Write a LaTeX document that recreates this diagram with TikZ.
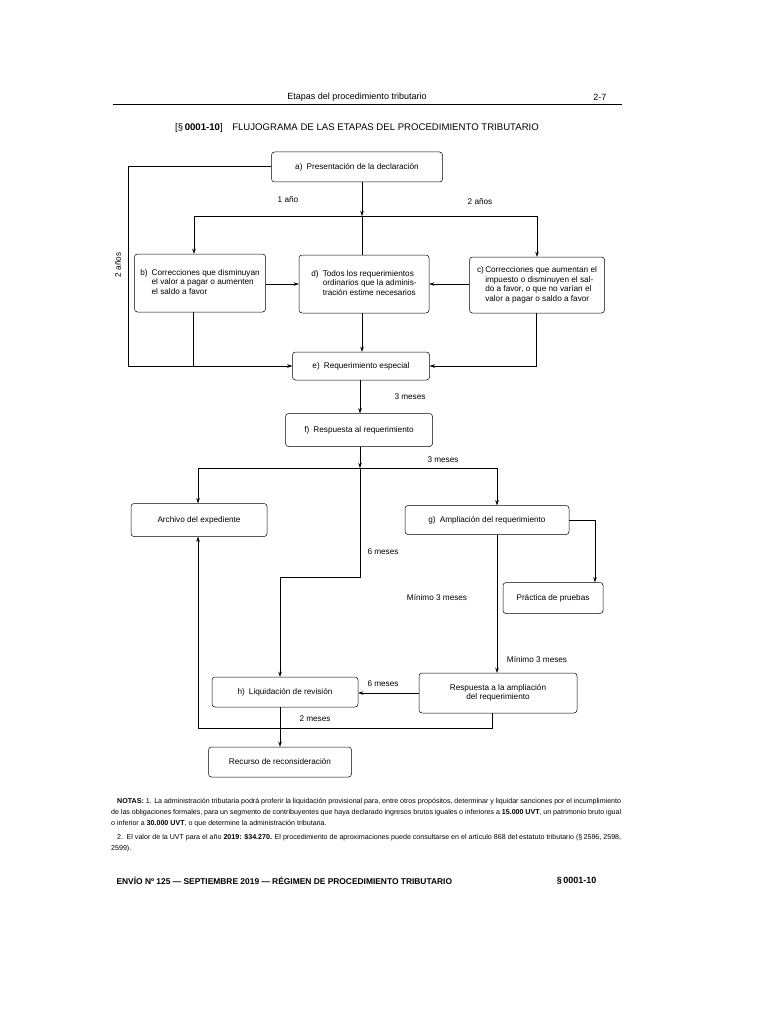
\documentclass[tikz,border=0pt]{standalone}
\usepackage{fontspec}
\setmainfont{Liberation Sans}
\usetikzlibrary{arrows.meta}
\begin{document}
\begin{tikzpicture}[x=1pt,y=-1pt,
  box/.style={draw,rounded corners=3pt,line width=0.5pt,font=\fontsize{8.2}{9.6}\selectfont,inner sep=2pt},
  lbl/.style={font=\fontsize{8.2}{9.6}\selectfont,inner sep=1pt},
  arr/.style={-{Stealth[length=5pt,width=3.5pt]},line width=0.45pt},
  ln/.style={line width=0.45pt}]
\useasboundingbox[fill=white] (0,0) rectangle (768,1024);
% header
\node[font=\fontsize{9}{10}\selectfont] (hd) at (357,97) {Etapas del procedimiento tributario};
\node[font=\fontsize{9}{10}\selectfont,anchor=east] (pg) at (610,97) {2-7};
\draw[line width=0.7pt] (113,104) -- (622,104);
\node[font=\fontsize{9.6}{11}\selectfont] (ttl) at (357,128) {[\S\,\textbf{0001-10}]\quad FLUJOGRAMA DE LAS ETAPAS DEL PROCEDIMIENTO TRIBUTARIO};
% boxes
\node[box,minimum width=171,minimum height=30] (a) at (357,167) {a)\enspace Presentación de la declaración};
\node[box,minimum width=131,minimum height=58,align=left] (b) at (200,283) {b)\enspace\begin{tabular}[t]{@{}l@{}}Correcciones que disminuyan\\el valor a pagar o aumenten\\el saldo a favor\end{tabular}};
\node[box,minimum width=130,minimum height=58,align=left] (d) at (364,284) {d)\enspace\begin{tabular}[t]{@{}l@{}}Todos los requerimientos\\ordinarios que la adminis-\\tración estime necesarios\end{tabular}};
\node[box,minimum width=135,minimum height=56,align=left] (c) at (537,285) {c)\,\begin{tabular}[t]{@{}l@{}}Correcciones que aumentan el\\impuesto o disminuyen el sal-\\do a favor, o que no varían el\\valor a pagar o saldo a favor\end{tabular}};
\node[box,minimum width=137,minimum height=28] (e) at (361,366) {e)\enspace Requerimiento especial};
\node[box,minimum width=147,minimum height=33] (f) at (359,430) {f)\enspace Respuesta al requerimiento};
\node[box,minimum width=136,minimum height=33] (arch) at (199,520) {Archivo del expediente};
\node[box,minimum width=164,minimum height=29] (g) at (487,520) {g)\enspace Ampliación del requerimiento};
\node[box,minimum width=100,minimum height=31] (prac) at (553,598) {Práctica de pruebas};
\node[box,minimum width=158,minimum height=40,align=center] (ra) at (498,693) {Respuesta a la ampliación\\del requerimiento};
\node[box,minimum width=146,minimum height=30] (h) at (285,692) {h)\enspace Liquidación de revisión};
\node[box,minimum width=143,minimum height=30] (rec) at (280,762) {Recurso de reconsideración};
% coordinates
\coordinate (j1) at (362,216);
\coordinate (j1l) at (194,216);
\coordinate (j1r) at (537,216);
\coordinate (la) at (128,166);
\coordinate (lb) at (128,366);
\coordinate (bb) at (193,366);
\coordinate (cb) at (536,366);
\coordinate (j2) at (360,468);
\coordinate (j2l) at (198,468);
\coordinate (j2r) at (497,468);
\coordinate (k1) at (360,577);
\coordinate (k2) at (280,577);
\coordinate (gr) at (595,520);
\coordinate (rb) at (492,728);
\coordinate (rl) at (198,728);
% connectors
\draw[arr] (a.south -| j1) -- (j1);
\draw[ln] (j1) -- (d.north -| j1);
\draw[ln] (j1l) -- (j1r);
\draw[arr] (j1l) -- (b.north -| j1l);
\draw[arr] (j1r) -- (c.north -| j1r);
\node[lbl] (l1) at (288,200) {1 año};
\node[lbl] (l2) at (480,202) {2 años};
\draw[ln] (a.west |- la) -- (la) -- (lb);
\draw[arr] (lb) -- (e.west |- lb);
\node[lbl,rotate=90] (l3) at (118,265) {2 años};
\draw[ln] (b.south -| bb) -- (bb);
\draw[arr] (b.east |- 0,284) -- (d.west |- 0,284);
\draw[arr] (c.west |- 0,284) -- (d.east |- 0,284);
\draw[arr] (d.south -| 362,0) -- (e.north -| 362,0);
\draw[arr] (c.south -| cb) -- (cb) -- (e.east |- cb);
\draw[arr] (e.south -| 360,0) -- (f.north -| 360,0);
\node[lbl] (l4) at (410,397) {3 meses};
\draw[arr] (f.south -| j2) -- (j2);
\draw[ln] (j2l) -- (j2r);
\draw[arr] (j2l) -- (arch.north -| j2l);
\draw[arr] (j2r) -- (g.north -| j2r);
\node[lbl] (l5) at (443,460) {3 meses};
\draw[arr] (j2) -- (k1) -- (k2) -- (h.north -| k2);
\node[lbl] (l6) at (383,552) {6 meses};
\draw[arr] (g.south -| 497,0) -- (ra.north -| 497,0);
\node[lbl] (l7) at (437,598) {Mínimo 3 meses};
\node[lbl] (l8) at (537,660) {Mínimo 3 meses};
\draw[arr] (g.east) -- (gr) -- (prac.north -| gr);
\draw[arr] (ra.west |- 0,693) -- (h.east |- 0,693);
\node[lbl] (l9) at (383,684) {6 meses};
\draw[arr] (h.south -| k2) -- (rec.north -| k2);
\node[lbl] (l10) at (315,719) {2 meses};
\draw[arr] (ra.south -| rb) -- (rb) -- (rl) -- (arch.south -| rl);
% notes
\node[anchor=north west,text width=510,align=justify,font=\fontsize{7.1}{10.8}\selectfont,inner sep=0] (notes) at (111,798) {\hspace*{6pt}\textbf{NOTAS:} 1. La administración tributaria podrá proferir la liquidación provisional para, entre otros propósitos, determinar y liquidar sanciones por el incumplimiento de las obligaciones formales, para un segmento de contribuyentes que haya declarado ingresos brutos iguales o inferiores a \textbf{15.000 UVT}, un patrimonio bruto igual o inferior a \textbf{30.000 UVT}, o que determine la administración tributaria.\par\vspace{4pt}
\hspace*{6pt}2.\enspace El valor de la UVT para el año \textbf{2019: \$34.270.} El procedimiento de aproximaciones puede consultarse en el artículo 868 del estatuto tributario (\S\,2596, 2598, 2599).};
% footer
\node[anchor=west,font=\bfseries\fontsize{8.4}{9}\selectfont] (ft) at (113,881) {ENVÍO Nº 125 — SEPTIEMBRE 2019 — RÉGIMEN DE PROCEDIMIENTO TRIBUTARIO};
\node[anchor=east,font=\bfseries\fontsize{9}{10}\selectfont] (ft2) at (600,881) {\S\,0001-10};
\end{tikzpicture}
\end{document}
